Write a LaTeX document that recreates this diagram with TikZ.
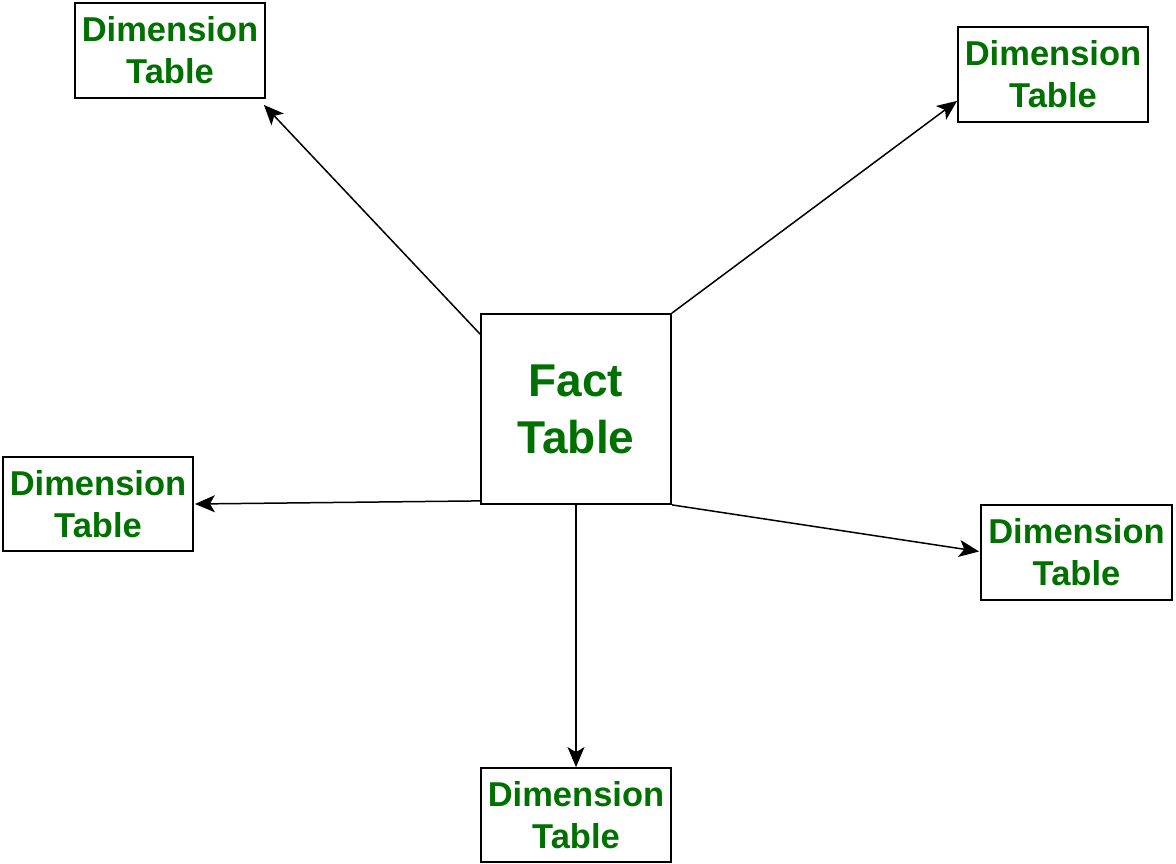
\documentclass[tikz,border=0pt]{standalone}
\usepackage{fontspec}
\setmainfont{Liberation Sans}
\usetikzlibrary{arrows.meta}
\definecolor{txtgreen}{RGB}{0,112,0}
\tikzset{
  dimbox/.style={draw=black, line width=1.8pt, minimum width=190pt, minimum height=95pt,
    inner sep=0pt, align=center, text=txtgreen,
    font=\fontsize{34.5}{42}\selectfont\bfseries},
  factbox/.style={draw=black, line width=1.8pt, minimum width=190pt, minimum height=190pt,
    inner sep=0pt, align=center, text=txtgreen,
    font=\fontsize{46}{57}\selectfont\bfseries},
  link/.style={line width=1.5pt, -{Stealth[length=20pt,width=17pt,inset=5pt]}}
}
\begin{document}
\begin{tikzpicture}[x=1pt,y=-1pt]
\useasboundingbox (0,0) rectangle (1176,864);
\node[factbox] (fact) at (576,409) {Fact\\Table};
\node[dimbox] (tl) at (170,50.5) {Dimension\\Table};
\node[dimbox] (tr) at (1053,74.5) {Dimension\\Table};
\node[dimbox, minimum height=94pt] (l) at (98,504) {Dimension\\Table};
\node[dimbox, minimum width=191pt] (r) at (1076.5,552.5) {Dimension\\Table};
\node[dimbox, minimum height=94pt] (b) at (576,815) {Dimension\\Table};
\draw[link] ([yshift=-21pt]fact.north west) -- ([xshift=-2pt,yshift=-6pt]tl.south east);
\draw[link] (fact.north east) -- ([yshift=22pt]tr.south west);
\draw[link] ([yshift=4pt]fact.south west) -- ([xshift=1pt]l.east);
\draw[link] (fact.south east) -- ([xshift=-1pt,yshift=1pt]r.west);
\draw[link] (fact.south) -- (b.north);
\end{tikzpicture}
\end{document}
